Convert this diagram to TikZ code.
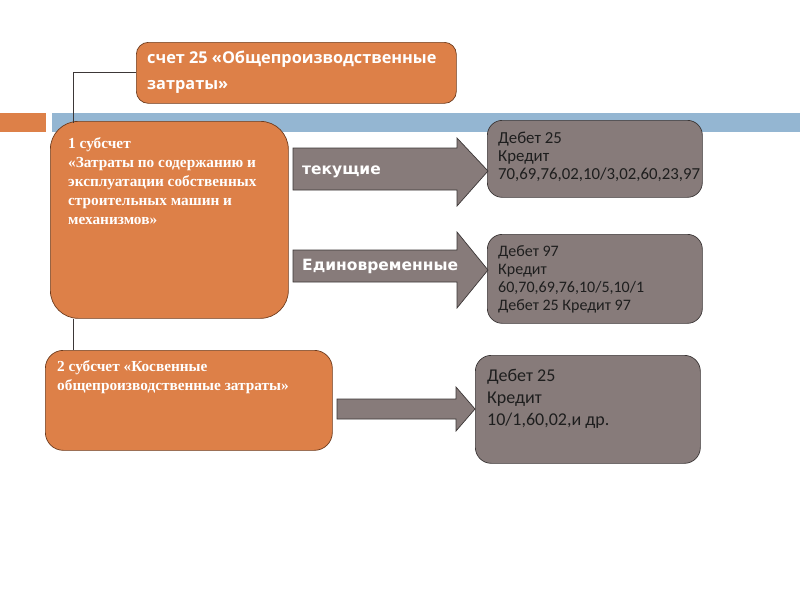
\documentclass[tikz,border=0pt]{standalone}
\usepackage{fontspec}
\setmainfont{Liberation Serif}
\newfontfamily\calib{Carlito}
\newfontfamily\opensans{Open Sans}
\newfontfamily\dejavu{DejaVu Sans}
\definecolor{org}{RGB}{221,128,72}
\definecolor{orgd}{RGB}{110,60,30}
\definecolor{gry}{RGB}{135,123,122}
\definecolor{gryd}{RGB}{60,55,55}
\definecolor{blu}{RGB}{148,182,210}
\definecolor{txtd}{RGB}{30,30,30}
\tikzset{
  obox/.style={draw=orgd, fill=org, line width=0.7pt, inner sep=0pt, anchor=north west},
  gbox/.style={draw=gryd, fill=gry, line width=0.7pt, inner sep=0pt, anchor=north west},
  otxt/.style={text=white, inner sep=0pt, anchor=north west, align=left},
  gtxt/.style={text=txtd, inner sep=0pt, anchor=north west, align=left},
  conn/.style={draw=gryd, line width=0.8pt},
  barrow/.style={draw=gryd, fill=gry, line width=0.7pt},
  lbl/.style={text=white, inner sep=0pt, anchor=west, font=\dejavu\bfseries\fontsize{15.5}{18}\selectfont}
}
\begin{document}
\begin{tikzpicture}[x=1pt,y=-1pt]
\useasboundingbox (0,0) rectangle (800,600);
\fill[org] (0,113) rectangle (46,132);
\fill[blu] (52,113) rectangle (800,132);

% top box
\node[obox, rounded corners=12pt, minimum width=320pt, minimum height=61pt] (top) at (136,42) {};
\node[otxt, font=\opensans\bfseries\fontsize{16.3}{26}\selectfont] (toptxt) at (147,51) {счет 25 «Общепроизводственные\\затраты»};

% left boxes
\node[obox, rounded corners=28pt, minimum width=238pt, minimum height=197pt] (b1) at (50,121) {};
\node[otxt, font=\bfseries\fontsize{15.3}{19}\selectfont] (b1txt) at (68,137) {1 субсчет\\«Затраты по содержанию и\\эксплуатации собственных\\строительных машин и\\механизмов»};

\node[obox, rounded corners=18pt, minimum width=287pt, minimum height=100pt] (b2) at (45,350) {};
\node[otxt, font=\bfseries\fontsize{15.3}{19}\selectfont] (b2txt) at (57,360) {2 субсчет «Косвенные\\общепроизводственные затраты»};

% connectors
\coordinate (c1) at (73,123);
\draw[conn] (top.west) -| (c1);
\draw[conn] (b1.south -| c1) -- (b2.north -| c1);

% right boxes
\node[gbox, rounded corners=15pt, minimum width=215pt, minimum height=77pt] (r1) at (487,120) {};
\node[gtxt, font=\calib\fontsize{16.8}{18}\selectfont] (r1txt) at (498,132) {Дебет 25\\Кредит\\70,69,76,02,10/3,02,60,23,97};

\node[gbox, rounded corners=15pt, minimum width=215pt, minimum height=89pt] (r2) at (487,234) {};
\node[gtxt, font=\calib\fontsize{16}{18}\selectfont] (r2txt) at (498,245) {Дебет 97\\Кредит\\60,70,69,76,10/5,10/1\\Дебет 25 Кредит 97};

\node[gbox, rounded corners=16pt, minimum width=225pt, minimum height=108pt] (r3) at (475,355) {};
\node[gtxt, font=\calib\fontsize{18}{22}\selectfont] (r3txt) at (487,369) {Дебет 25\\Кредит\\10/1,60,02,и др.};

% block arrows
\coordinate (a1t) at (488,171);
\path[barrow] (293,148) -- (457,148) -- (457,138) -- (a1t) -- (457,206) -- (457,190) -- (293,190) -- cycle;
\node[lbl] (l1) at (302,172) {текущие};

\coordinate (a2t) at (488,270);
\path[barrow] (293,250) -- (457,250) -- (457,232) -- (a2t) -- (457,308) -- (457,282) -- (293,282) -- cycle;
\node[lbl] (l2) at (302,266) {Единовременные};

\coordinate (a3t) at (475,409);
\path[barrow] (337,399) -- (456,399) -- (456,387) -- (a3t) -- (456,431) -- (456,419) -- (337,419) -- cycle;
\end{tikzpicture}
\end{document}
